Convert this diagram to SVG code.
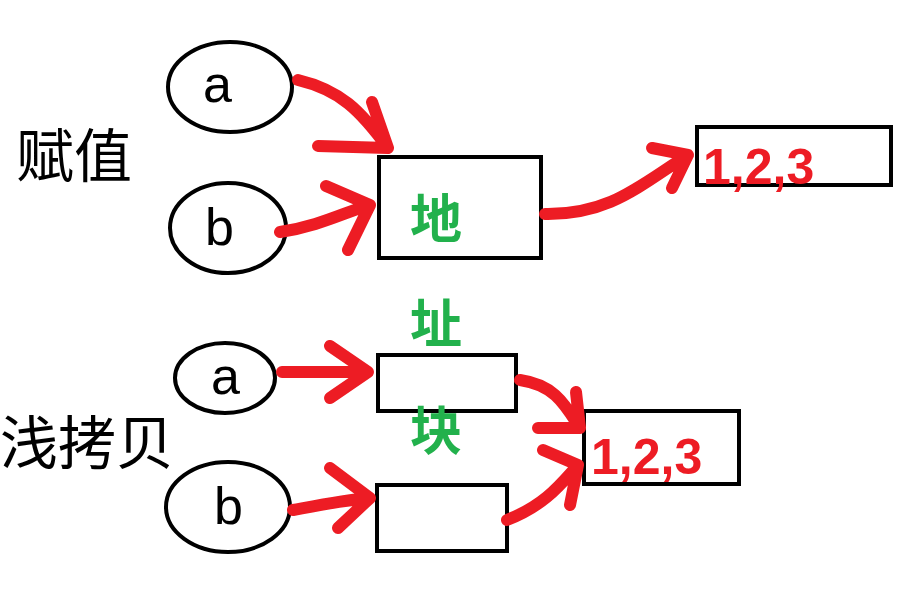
<svg xmlns="http://www.w3.org/2000/svg" width="911" height="601" viewBox="0 0 911 601">
<style>
.n{fill:#fff;stroke:#000;stroke-width:4}
.t{font-family:"Liberation Sans",Arial,sans-serif;font-size:52px;fill:#000}
.cj{font-family:"Noto Sans CJK SC",sans-serif;font-size:58px;fill:#000}
.g{font-family:"Noto Sans CJK SC",sans-serif;font-size:52px;font-weight:bold;fill:#22b14c}
.r{font-family:"Liberation Sans",Arial,sans-serif;font-size:50px;font-weight:bold;fill:#ed1c24}
.a{fill:none;stroke:#ed1c24;stroke-width:12;stroke-linecap:round;stroke-linejoin:round}
</style>
<rect width="911" height="601" fill="#fff"/>
<text class="cj" x="16" y="177">赋值</text>
<text class="cj" x="0" y="464">浅拷贝</text>
<g id="a1"><ellipse class="n" cx="230" cy="87" rx="62" ry="45"/><text class="t" x="203" y="102">a</text></g>
<g id="b1"><ellipse class="n" cx="228" cy="228" rx="58" ry="45"/><text class="t" x="205" y="245">b</text></g>
<g id="a2"><ellipse class="n" cx="225" cy="378" rx="50" ry="35"/><text class="t" x="211" y="394">a</text></g>
<g id="b2"><ellipse class="n" cx="228" cy="507" rx="62" ry="45"/><text class="t" x="214" y="524">b</text></g>
<g id="addr"><rect class="n" x="379" y="157" width="162" height="101"/></g>
<g id="v1"><rect class="n" x="697" y="127" width="194" height="58"/><text class="r" x="703" y="184">1,2,3</text></g>
<g id="s1"><rect class="n" x="378" y="355" width="138" height="56"/></g>
<g id="s2"><rect class="n" x="377" y="485" width="130" height="66"/></g>
<g id="v2"><rect class="n" x="584" y="411" width="155" height="73"/><text class="r" x="591" y="474">1,2,3</text></g>
<text class="g" x="410" y="238">地</text>
<text class="g" x="410" y="343">址</text>
<text class="g" x="410" y="450">块</text>
<g id="connectors">
<path class="a" d="M298,80 C340,90 360,110 388,148 M372,102 L388,148 L318,146"/>
<path class="a" d="M280,232 C320,226 345,212 370,205 M326,186 L370,205 L348,250"/>
<path class="a" d="M545,214 C610,215 640,185 688,155 M652,148 L688,155 L672,188"/>
<path class="a" d="M282,372 L368,372 M330,346 L368,372 L330,398"/>
<path class="a" d="M293,510 C320,505 345,500 370,498 M330,468 L370,498 L338,528"/>
<path class="a" d="M520,380 C555,385 565,405 580,428 M538,428 L580,428 L576,392"/>
<path class="a" d="M507,520 C545,505 560,485 578,465 M543,450 L578,465 L570,505"/>
</g>
</svg>
